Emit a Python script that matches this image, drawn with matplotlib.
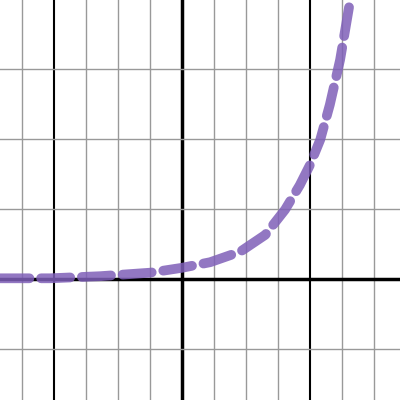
import matplotlib.pyplot as plt
import numpy as np

# curve points (data units: x step 0.5 per gray line, y step 1)
curve_x = [-2.84, -2.06, -1.28, -0.50, 0.0, 0.44, 0.91, 1.30, 1.61, 1.84, 2.0, 2.16, 2.31, 2.47, 2.63]
curve_y = [0.01, 0.01, 0.04, 0.09, 0.16, 0.24, 0.39, 0.63, 0.99, 1.34, 1.63, 1.99, 2.49, 3.13, 3.99]

fig = plt.figure(figsize=(4, 4), dpi=100)
ax = fig.add_axes([0, 0, 1, 1])
ax.set_xlim(-182 / 64, 218 / 64)
ax.set_ylim(-121 / 70, 279 / 70)
ax.axis("off")

for gx in np.arange(-2.5, 3.5, 0.5):
    black = abs(gx % 2) < 1e-9
    ax.axvline(gx, color="black" if black else "#999999",
               lw=2.5 if gx == 0 else (1.5 if black else 1.0), zorder=1)
for gy in range(-1, 4):
    ax.axhline(gy, color="black" if gy == 0 else "#999999",
               lw=2.5 if gy == 0 else 1.0, zorder=1)

ax.plot(curve_x, curve_y, color="#7f5fb8", alpha=0.85, lw=7,
        ls=(0, (3, 1.2)), solid_capstyle="round", dash_capstyle="round", zorder=3)

fig.savefig("out.png", dpi=100)
